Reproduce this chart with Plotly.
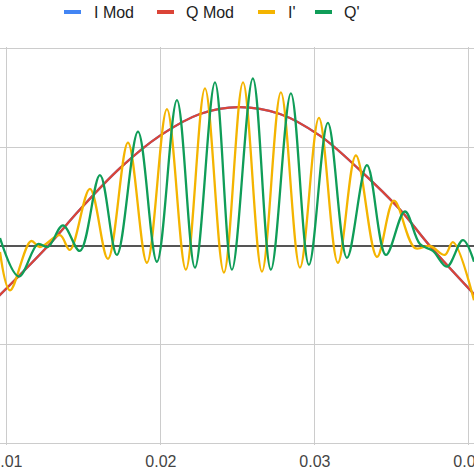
import plotly.graph_objects as go

# envelope (I Mod is drawn under Q Mod, same values)
t_mod = [0.0094, 0.01266, 0.01474, 0.01734, 0.01994, 0.02253, 0.02507,
         0.02773, 0.03032, 0.03292, 0.03552, 0.03747, 0.0404]
i_mod = [-0.52, 0.00, 0.37, 0.79, 1.12, 1.34, 1.41,
         1.34, 1.12, 0.77, 0.37, 0.00, -0.50]
q_mod = [-0.52, 0.00, 0.37, 0.79, 1.12, 1.34, 1.41,
         1.34, 1.12, 0.77, 0.37, 0.00, -0.50]

# I' peaks / troughs
t_i = [0.00955, 0.01020, 0.01156, 0.01214, 0.01344, 0.01409, 0.01539,
       0.01656, 0.01786, 0.01909, 0.02039, 0.02162, 0.02286, 0.02409,
       0.02533, 0.02656, 0.02779, 0.02903, 0.03026, 0.03149, 0.03266,
       0.03403, 0.03513, 0.03649, 0.03747, 0.03844, 0.03896, 0.04033]
i_prime = [-0.06, -0.45, 0.05, -0.01, 0.11, -0.04, 0.58,
           -0.13, 1.05, -0.17, 1.39, -0.24, 1.60, -0.27,
           1.66, -0.26, 1.56, -0.22, 1.30, -0.17, 0.92,
           -0.11, 0.46, -0.02, 0.00, -0.09, 0.04, -0.55]

# Q'
t_q = [0.00955, 0.01078, 0.01201, 0.01266, 0.01364, 0.01474, 0.01604,
       0.01714, 0.01851, 0.01974, 0.02104, 0.02221, 0.02351, 0.02461,
       0.02597, 0.02714, 0.02844, 0.02961, 0.03084, 0.03208, 0.03338,
       0.03461, 0.03584, 0.03682, 0.03766, 0.03857, 0.03961, 0.04033]
q_prime = [0.08, -0.31, 0.02, -0.01, 0.21, -0.05, 0.72,
           -0.09, 1.16, -0.16, 1.48, -0.22, 1.66, -0.24,
           1.70, -0.24, 1.55, -0.19, 1.25, -0.12, 0.82,
           -0.09, 0.35, 0.02, -0.05, -0.21, 0.06, -0.16]

x_ticks = [0.01, 0.02, 0.03, 0.04]

series = [("I Mod", t_mod, i_mod, "#4285f4"),
          ("Q Mod", t_mod, q_mod, "#db4437"),
          ("I'", t_i, i_prime, "#f4b400"),
          ("Q'", t_q, q_prime, "#0f9d58")]

fig = go.Figure()
for name, xs, ys, col in series:
    fig.add_trace(go.Scatter(x=xs, y=ys, name=name, mode="lines",
                             line=dict(color=col, width=2.3, shape="spline")))

# legend drawn by hand, google-charts style (short thick swatch + label)
W, H, T, B = 474, 474, 47, 29
leg_y = (H - B - 12) / (H - T - B)
swatch_x = [64, 157, 258, 315]
label_x = [92, 184, 286, 342]
for (name, _, _, col), sx, lx in zip(series, swatch_x, label_x):
    fig.add_shape(type="line", xref="paper", yref="paper",
                  x0=sx / W, x1=(sx + 17) / W, y0=leg_y, y1=leg_y,
                  line=dict(color=col, width=4))
    fig.add_annotation(text=name, xref="paper", yref="paper", x=lx / W, y=leg_y,
                       xanchor="left", yanchor="middle", showarrow=False,
                       font=dict(size=16, color="#222"))

fig.update_layout(
    width=W, height=H,
    margin=dict(l=0, r=0, t=T, b=B, autoexpand=False),
    paper_bgcolor="white", plot_bgcolor="white",
    font=dict(family="Liberation Sans, Arial, sans-serif", size=16, color="#444"),
    showlegend=False,
)
# edge labels are cut by the frame in the original too
fig.update_xaxes(range=[0.00955, 0.04033], tickvals=x_ticks,
                 ticktext=[f"{v:.2f}" for v in x_ticks], ticklabeloverflow="allow",
                 ticklabelstandoff=5,
                 showgrid=True, gridcolor="#cccccc", gridwidth=1,
                 zeroline=False, showline=False, ticks="")
fig.update_yaxes(range=[-2.02, 2.02], dtick=1, showticklabels=False,
                 showgrid=True, gridcolor="#cccccc", gridwidth=1,
                 zeroline=True, zerolinecolor="#555555", zerolinewidth=1.5,
                 showline=False, ticks="")

fig.write_html("out.html", config={"displayModeBar": False},
               post_script="document.body.style.margin='0';")
